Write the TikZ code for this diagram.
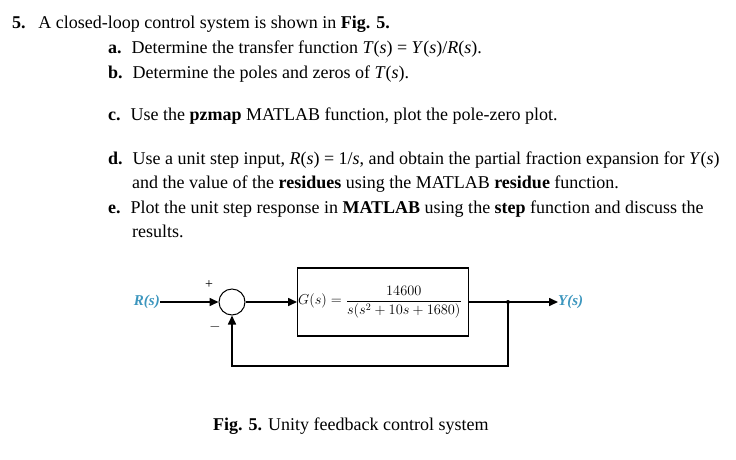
\documentclass[tikz,border=0pt]{standalone}
\usepackage{fontspec}
\setmainfont{Liberation Serif}
\usetikzlibrary{arrows.meta}
\definecolor{lab}{RGB}{60,150,190}
\begin{document}
\begin{tikzpicture}[x=1pt,y=-1pt,
  txt/.style={anchor=base west,inner sep=0pt,font=\fontsize{18}{21}\selectfont},
  wire/.style={line width=1.6pt},
  arr/.style={wire,-{Triangle[length=9pt,width=8pt]}},
  lbl/.style={font=\fontsize{15}{17}\selectfont\bfseries\itshape,text=lab,inner sep=0pt}]
\useasboundingbox (0,0) rectangle (736,459);
\node[txt] (q) at (12,28) {\textbf{5.}\hspace{0.7em}A closed-loop control system is shown in \textbf{Fig. 5.}};
\node[txt] (a) at (108,53) {\textbf{a.}\hspace{0.55em}Determine the transfer function \textit{T}(\textit{s}) = \textit{Y}(\textit{s})/\textit{R}(\textit{s}).};
\node[txt] (b) at (108,78) {\textbf{b.}\hspace{0.55em}Determine the poles and zeros of \textit{T}(\textit{s}).};
\node[txt] (c) at (108,120) {\textbf{c.}\hspace{0.55em}Use the \textbf{pzmap} MATLAB function, plot the pole-zero plot.};
\node[txt] (d) at (108,164) {\textbf{d.}\hspace{0.55em}Use a unit step input, \textit{R}(\textit{s}) = 1/\textit{s}, and obtain the partial fraction expansion for \textit{Y}(\textit{s})};
\node[txt] (d2) at (132,188) {and the value of the \textbf{residues} using the MATLAB \textbf{residue} function.};
\node[txt] (e) at (108,213) {\textbf{e.}\hspace{0.55em}Plot the unit step response in \textbf{MATLAB} using the \textbf{step} function and discuss the};
\node[txt] (e2) at (132,237) {results.};
\node[txt] (cap) at (213,430) {\textbf{Fig. 5.} Unity feedback control system};
% diagram
\node[lbl,anchor=east] (R) at (160,302) {R(s)};
\node[draw,circle,minimum size=26pt,inner sep=0pt,line width=1pt] (S) at (232,302) {};
\node[draw,line width=1.3pt,minimum width=171pt,minimum height=68pt,anchor=west,inner sep=0pt] (G) at (297,302) {};
\node[anchor=west,inner sep=1pt,font=\fontsize{14}{16}\selectfont] (Gt) at (297,302) {$G(s)=\displaystyle\frac{14600}{s(s^2+10s+1680)}$};
\coordinate (J) at (508,302);
\coordinate (B1) at (508,366);
\coordinate (B2) at (232,366);
\node[lbl,anchor=west] (Y) at (558,302) {Y(s)};
\node[font=\fontsize{14}{16}\selectfont] (p) at (209,285) {+};
\node[font=\fontsize{14}{16}\selectfont] (m) at (215,327) {$-$};
\draw[arr] (R) -- (S);
\draw[arr] (S) -- (G);
\draw[arr] (G) -- (Y.west);
\fill (J) circle (2pt);
\draw[arr] (J) -- (B1) -- (B2) -- (S);
\end{tikzpicture}
\end{document}
